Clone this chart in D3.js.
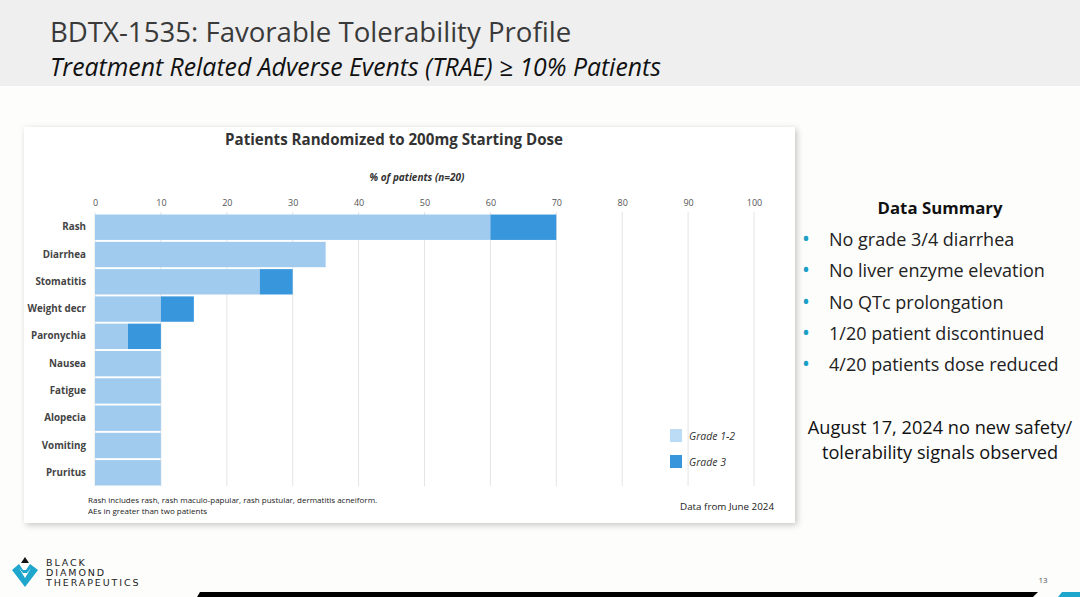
<!DOCTYPE html>
<html>
<head>
<meta charset="utf-8">
<script src="https://cdn.jsdelivr.net/npm/d3@7"></script>
<style>
  body { margin: 0; background: #fdfdfc; }
  svg { display: block; font-family: "Open Sans", "Noto Sans", sans-serif; }
</style>
</head>
<body>
<svg id="slide" width="1080" height="597"></svg>
<script>
// chart data
var categories = ['Rash', 'Diarrhea', 'Stomatitis', 'Weight decr', 'Paronychia', 'Nausea', 'Fatigue', 'Alopecia', 'Vomiting', 'Pruritus'];
var grade12 = [60, 35, 25, 10, 5, 10, 10, 10, 10, 10];
var grade3 = [10, 0, 5, 5, 5, 0, 0, 0, 0, 0];
var xTicks = [0, 10, 20, 30, 40, 50, 60, 70, 80, 90, 100];
var seriesNames = ['Grade 1-2', 'Grade 3'];
var summary = ['No grade 3/4 diarrhea', 'No liver enzyme elevation', 'No QTc prolongation', '1/20 patient discontinued', '4/20 patients dose reduced'];

var svg = d3.select('#slide');
var FONT = '"Open Sans", "Noto Sans", sans-serif';

// header band
svg.append('rect').attr('x', 0).attr('y', 0).attr('width', 1080).attr('height', 86).attr('fill', '#efefef');
svg.append('text').attr('x', 50).attr('y', 42).attr('font-size', 27.6).attr('fill', '#3a3a3a')
  .text('BDTX-1535: Favorable Tolerability Profile');
svg.append('text').attr('x', 50).attr('y', 76).attr('font-size', 24.8).attr('font-style', 'italic').attr('fill', '#111')
  .text('Treatment Related Adverse Events (TRAE) \u2265 10% Patients');

// card with shadow
var defs = svg.append('defs');
var f = defs.append('filter').attr('id', 'sh').attr('x', '-5%').attr('y', '-5%').attr('width', '110%').attr('height', '115%');
f.append('feDropShadow').attr('dx', 2).attr('dy', 2).attr('stdDeviation', 3).attr('flood-color', '#000').attr('flood-opacity', 0.22);
svg.append('rect').attr('x', 24).attr('y', 127).attr('width', 771).attr('height', 396).attr('fill', '#fff').attr('filter', 'url(#sh)');

svg.append('text').attr('x', 394).attr('y', 145).attr('text-anchor', 'middle').attr('font-size', 15.1).attr('font-weight', 'bold').attr('fill', '#333')
  .text('Patients Randomized to 200mg Starting Dose');
svg.append('text').attr('x', 417).attr('y', 181).attr('text-anchor', 'middle').attr('font-size', 10).attr('font-weight', 'bold').attr('font-style', 'italic').attr('fill', '#333')
  .text('%  of patients (n=20)');

// scales
var x = d3.scaleLinear().domain([0, 100]).range([95, 754]);
var y = d3.scaleBand().domain(categories).range([214, 486]).paddingInner(0.07).paddingOuter(0.02);

var g = svg.append('g');
// gridlines
g.selectAll('line.grid').data(xTicks).enter().append('line')
  .attr('x1', d => x(d)).attr('x2', d => x(d)).attr('y1', 212).attr('y2', 486)
  .attr('stroke', '#e4e4e4').attr('stroke-width', 1);

// top axis labels
var ax = d3.axisTop(x).tickValues(xTicks).tickSize(0).tickPadding(0);
var axG = svg.append('g').attr('transform', 'translate(0,206)').call(ax);
axG.select('.domain').remove();
axG.selectAll('text').attr('font-size', 9).attr('fill', '#555').attr('font-family', FONT);

// y labels
var ay = d3.axisLeft(y).tickSize(0).tickPadding(9);
var ayG = svg.append('g').attr('transform', 'translate(' + x(0) + ',0)').call(ay);
ayG.select('.domain').remove();
ayG.selectAll('text').attr('font-size', 9.8).attr('font-weight', 'bold').attr('fill', '#444').attr('font-family', FONT);

var c1 = '#a0cbee', c2 = '#3896dc';
g.selectAll('rect.g12').data(categories).enter().append('rect')
  .attr('x', x(0)).attr('y', d => y(d)).attr('height', y.bandwidth())
  .attr('width', (d, i) => x(grade12[i]) - x(0)).attr('fill', c1);
g.selectAll('rect.g3').data(categories).enter().append('rect')
  .attr('x', (d, i) => x(grade12[i])).attr('y', d => y(d)).attr('height', y.bandwidth())
  .attr('width', (d, i) => x(grade12[i] + grade3[i]) - x(grade12[i])).attr('fill', c2);

// legend (grade 1-2 swatch is a bit lighter than the bars)
var lg = svg.append('g');
['#bcdcf6', c2].forEach(function (c, i) {
  lg.append('rect').attr('x', 670).attr('y', 429 + i * 26).attr('width', 12).attr('height', 13).attr('fill', c);
  lg.append('text').attr('x', 689).attr('y', 440 + i * 26).attr('font-size', 10.5).attr('font-style', 'italic').attr('fill', '#333')
    .text(seriesNames[i]);
});

// footnotes
svg.append('text').attr('x', 88).attr('y', 503).attr('font-size', 8).attr('fill', '#222')
  .text('Rash includes rash, rash maculo-papular, rash pustular, dermatitis acneiform.');
svg.append('text').attr('x', 88).attr('y', 514).attr('font-size', 8).attr('fill', '#222')
  .text('AEs in greater than two patients');
svg.append('text').attr('x', 774).attr('y', 510).attr('text-anchor', 'end').attr('font-size', 9.8).attr('fill', '#222')
  .text('Data from June 2024');

// data summary
svg.append('text').attr('x', 940).attr('y', 214).attr('text-anchor', 'middle').attr('font-size', 16.8).attr('font-weight', 'bold').attr('fill', '#111')
  .text('Data Summary');
summary.forEach(function (s, i) {
  var yy = 246 + i * 31.3;
  svg.append('text').attr('x', 802).attr('y', yy).attr('font-size', 21).attr('fill', '#1aa0c6').text('\u2022');
  svg.append('text').attr('x', 829).attr('y', yy).attr('font-size', 18).attr('fill', '#222').text(s);
});
svg.append('text').attr('x', 940).attr('y', 434).attr('text-anchor', 'middle').attr('font-size', 18.2).attr('fill', '#111')
  .text('August 17, 2024 no new safety/');
svg.append('text').attr('x', 940).attr('y', 459).attr('text-anchor', 'middle').attr('font-size', 18.2).attr('fill', '#111')
  .text('tolerability signals observed');

// logo
svg.append('path').attr('d', 'M21,563 L25,557 L29,563 Z').attr('fill', '#111');
svg.append('path').attr('d', 'M12,570 L19,564 L23,570 L26,570 L30,564 L38,570 L25,587 Z').attr('fill', '#1fa6cc');
svg.append('path').attr('d', 'M19,568 L23,573 L27,573 L31,568 L25,578 Z').attr('fill', '#fff');
['BLACK', 'DIAMOND', 'THERAPEUTICS'].forEach(function (t, i) {
  svg.append('text').attr('x', 46).attr('y', 566 + i * 10).attr('font-size', 9.5).attr('letter-spacing', 1.9)
    .attr('font-family', '"DejaVu Sans", sans-serif').attr('fill', '#222').text(t);
});
svg.append('text').attr('x', 1043).attr('y', 583).attr('text-anchor', 'middle').attr('font-size', 8).attr('fill', '#555').text('13');

// bottom bars
svg.append('path').attr('d', 'M200,592 L1038,592 L1033,597 L197,597 Z').attr('fill', '#000');
svg.append('path').attr('d', 'M1062,592 L1080,592 L1080,597 L1058,597 Z').attr('fill', '#1fa6cc');
</script>
</body>
</html>
